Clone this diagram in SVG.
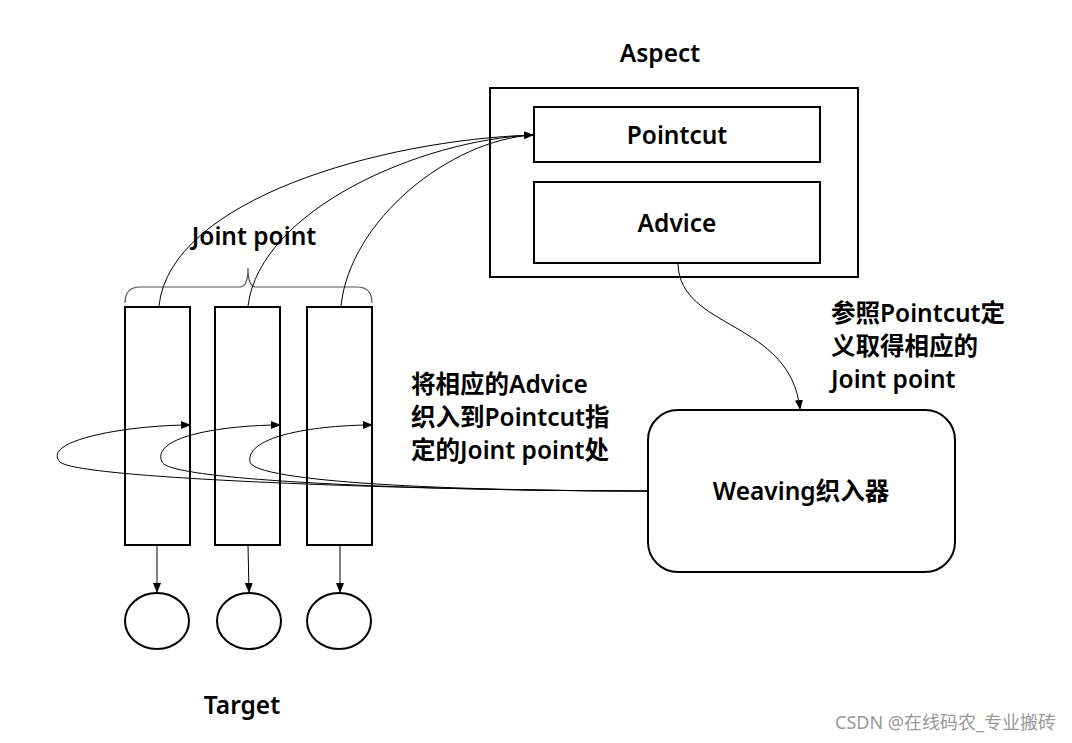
<svg xmlns="http://www.w3.org/2000/svg" width="1072" height="743" viewBox="0 0 1072 743">
<defs>
<marker id="ar" markerWidth="10" markerHeight="8" refX="9" refY="4" orient="auto" markerUnits="userSpaceOnUse"><path d="M0,0 L10,4 L0,8 z" fill="#000"/></marker>
<style>
.b{fill:#fff;stroke:#000;stroke-width:2}
.c{fill:none;stroke:#000;stroke-width:1}
text{font-family:"Noto Sans","Noto Sans CJK SC",sans-serif;font-size:24.5px;fill:#000;font-weight:600}
</style>
</defs>
<rect width="1072" height="743" fill="#fff"/>
<g id="aspect"><text x="660" y="62" text-anchor="middle">Aspect</text><rect class="b" x="490" y="88" width="368" height="189"/></g>
<g id="pointcut"><rect class="b" x="534" y="107" width="286" height="55"/><text x="677" y="144" text-anchor="middle">Pointcut</text></g>
<g id="advice"><rect class="b" x="534" y="182" width="286" height="81"/><text x="677" y="232" text-anchor="middle">Advice</text></g>
<g id="weaving"><rect class="b" x="648" y="410" width="307" height="162" rx="30"/><text x="801" y="500" text-anchor="middle">Weaving织入器</text></g>
<g id="bars"><rect class="b" x="125" y="307" width="65" height="238"/><rect class="b" x="215" y="307" width="65" height="238"/><rect class="b" x="307" y="307" width="65" height="238"/></g>
<g id="targets"><ellipse class="b" cx="157" cy="621" rx="32" ry="28"/><ellipse class="b" cx="249" cy="621" rx="32" ry="28"/><ellipse class="b" cx="339" cy="621" rx="32" ry="28"/><text x="242" y="714" text-anchor="middle">Target</text></g>
<g id="labels">
<text x="254" y="245" text-anchor="middle">Joint point</text>
<text x="411" y="393">将相应的Advice</text>
<text x="411" y="426">织入到Pointcut指</text>
<text x="411" y="459">定的Joint point处</text>
<text x="831" y="322">参照Pointcut定</text>
<text x="831" y="355">义取得相应的</text>
<text x="831" y="388">Joint point</text>
<text x="1056" y="729" text-anchor="end" style="font-size:18px;fill:#999;font-weight:400">CSDN @在线码农_专业搬砖</text>
</g>
<g id="connectors">
<path d="M125,303 Q125,287 140,287 L240,287 Q248,287 248,268 Q248,287 256,287 L357,287 Q372,287 372,303" fill="none" stroke="#555" stroke-width="1.2"/>
<path class="c" d="M159,306 C170,200 380,140 533,135" marker-end="url(#ar)"/>
<path class="c" d="M248,306 C260,210 420,140 533,135"/>
<path class="c" d="M341,306 C350,220 450,140 533,135"/>
<path class="c" d="M678,264 C680,330 790,320 800,409" marker-end="url(#ar)"/>
<path class="c" d="M648,491 C450,491 80,480 60,462 C40,440 130,425 190,425" marker-end="url(#ar)"/>
<path class="c" d="M648,491 C450,491 170,482 162,462 C150,435 230,425 280,425" marker-end="url(#ar)"/>
<path class="c" d="M648,491 C450,491 255,482 250,462 C245,435 320,425 372,425" marker-end="url(#ar)"/>
<path class="c" d="M157,545 L157,592" marker-end="url(#ar)"/>
<path class="c" d="M248,545 L249,592" marker-end="url(#ar)"/>
<path class="c" d="M340,545 L340,592" marker-end="url(#ar)"/>
</g>
</svg>
